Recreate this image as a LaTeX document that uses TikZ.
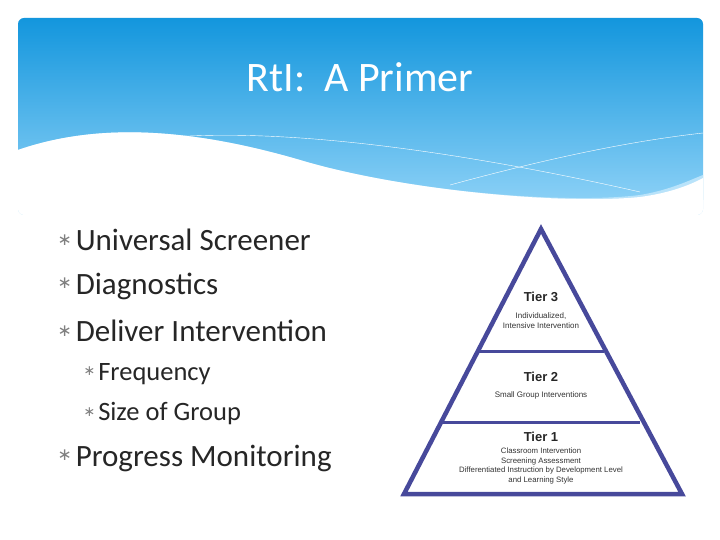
\documentclass[tikz,border=0pt]{standalone}
\usepackage{fontspec}
\setmainfont{Carlito}
\newfontfamily\arialf{Liberation Sans}
\newfontfamily\symf{DejaVu Sans}
\begin{document}
\begin{tikzpicture}[x=1pt,y=-1pt,
  bul/.style={anchor=west,font=\fontsize{31}{34}\selectfont,text=black!85},
  sbul/.style={anchor=west,font=\fontsize{26.5}{30}\selectfont,text=black!85},
  tier/.style={font=\arialf\bfseries\fontsize{13}{15}\selectfont,text=black!85},
  small/.style={font=\arialf\fontsize{8}{10}\selectfont,text=black!80,align=center}]
\useasboundingbox (0,0) rectangle (720,540);
\fill[white] (0,0) rectangle (720,540);
\definecolor{topb}{HTML}{1396DD}
\definecolor{botb}{HTML}{8AD0F6}
\definecolor{pyr}{HTML}{47499B}
\begin{scope}
\clip[rounded corners=6] (18,18) rectangle (703,215);
\shade[top color=topb,bottom color=botb] (18,18) rectangle (703,200);
\fill[botb!60] (18,150) .. controls (90,125) and (180,125) .. (300,160) .. controls (400,190) and (560,205) .. (640,195) .. controls (670,190) and (690,180) .. (703,175) -- (703,215) -- (18,215) -- cycle;
\fill[white] (18,150) .. controls (90,125) and (180,125) .. (300,160) .. controls (400,190) and (560,205) .. (640,197) .. controls (670,193) and (690,185) .. (703,178) -- (703,215) -- (18,215) -- cycle;
\draw[white,thin] (160,138) .. controls (300,125) and (500,160) .. (640,192);
\draw[white,thin] (450,185) .. controls (560,155) and (640,140) .. (703,133);
\end{scope}
\node[text=white,font=\fontsize{42}{46}\selectfont] (title) at (360,77) {RtI:\ \ A Primer};
\foreach \t/\y [count=\i] in {Universal Screener/240,Diagnostics/286,Deliver Intervention/331,Progress Monitoring/458}{
  \node[bul] (b\i) at (54,\y) {\raisebox{0.18em}{\symf\fontsize{17}{17}\selectfont\textcolor{black!50}{∗}}\hspace{4pt}\t};
}
\foreach \t/\y [count=\i] in {Frequency/374,Size of Group/414}{
  \node[sbul] (s\i) at (80,\y) {\raisebox{0.18em}{\symf\fontsize{14}{14}\selectfont\textcolor{black!50}{∗}}\hspace{3pt}\t};
}
\coordinate (A) at (541,229);
\coordinate (L) at (404,494);
\coordinate (R) at (682,494);
\draw[pyr,line width=4.5pt,line join=miter] (A) -- (L) -- (R) -- cycle;
\draw[pyr,line width=3pt] (478,351) -- (604,351);
\draw[pyr,line width=3pt] (442,422) -- (640,422);
\node[tier] (t3) at (541,297) {Tier 3};
\node[small] (t3d) at (541,321) {Individualized,\\Intensive Intervention};
\node[tier] (t2) at (541,377) {Tier 2};
\node[small] (t2d) at (541,395) {Small Group Interventions};
\node[tier] (t1) at (541,437) {Tier 1};
\node[small,font=\arialf\fontsize{7.8}{9.8}\selectfont] (t1d) at (541,466) {Classroom Intervention\\Screening Assessment\\Differentiated Instruction by Development Level\\and Learning Style};
\end{tikzpicture}
\end{document}
